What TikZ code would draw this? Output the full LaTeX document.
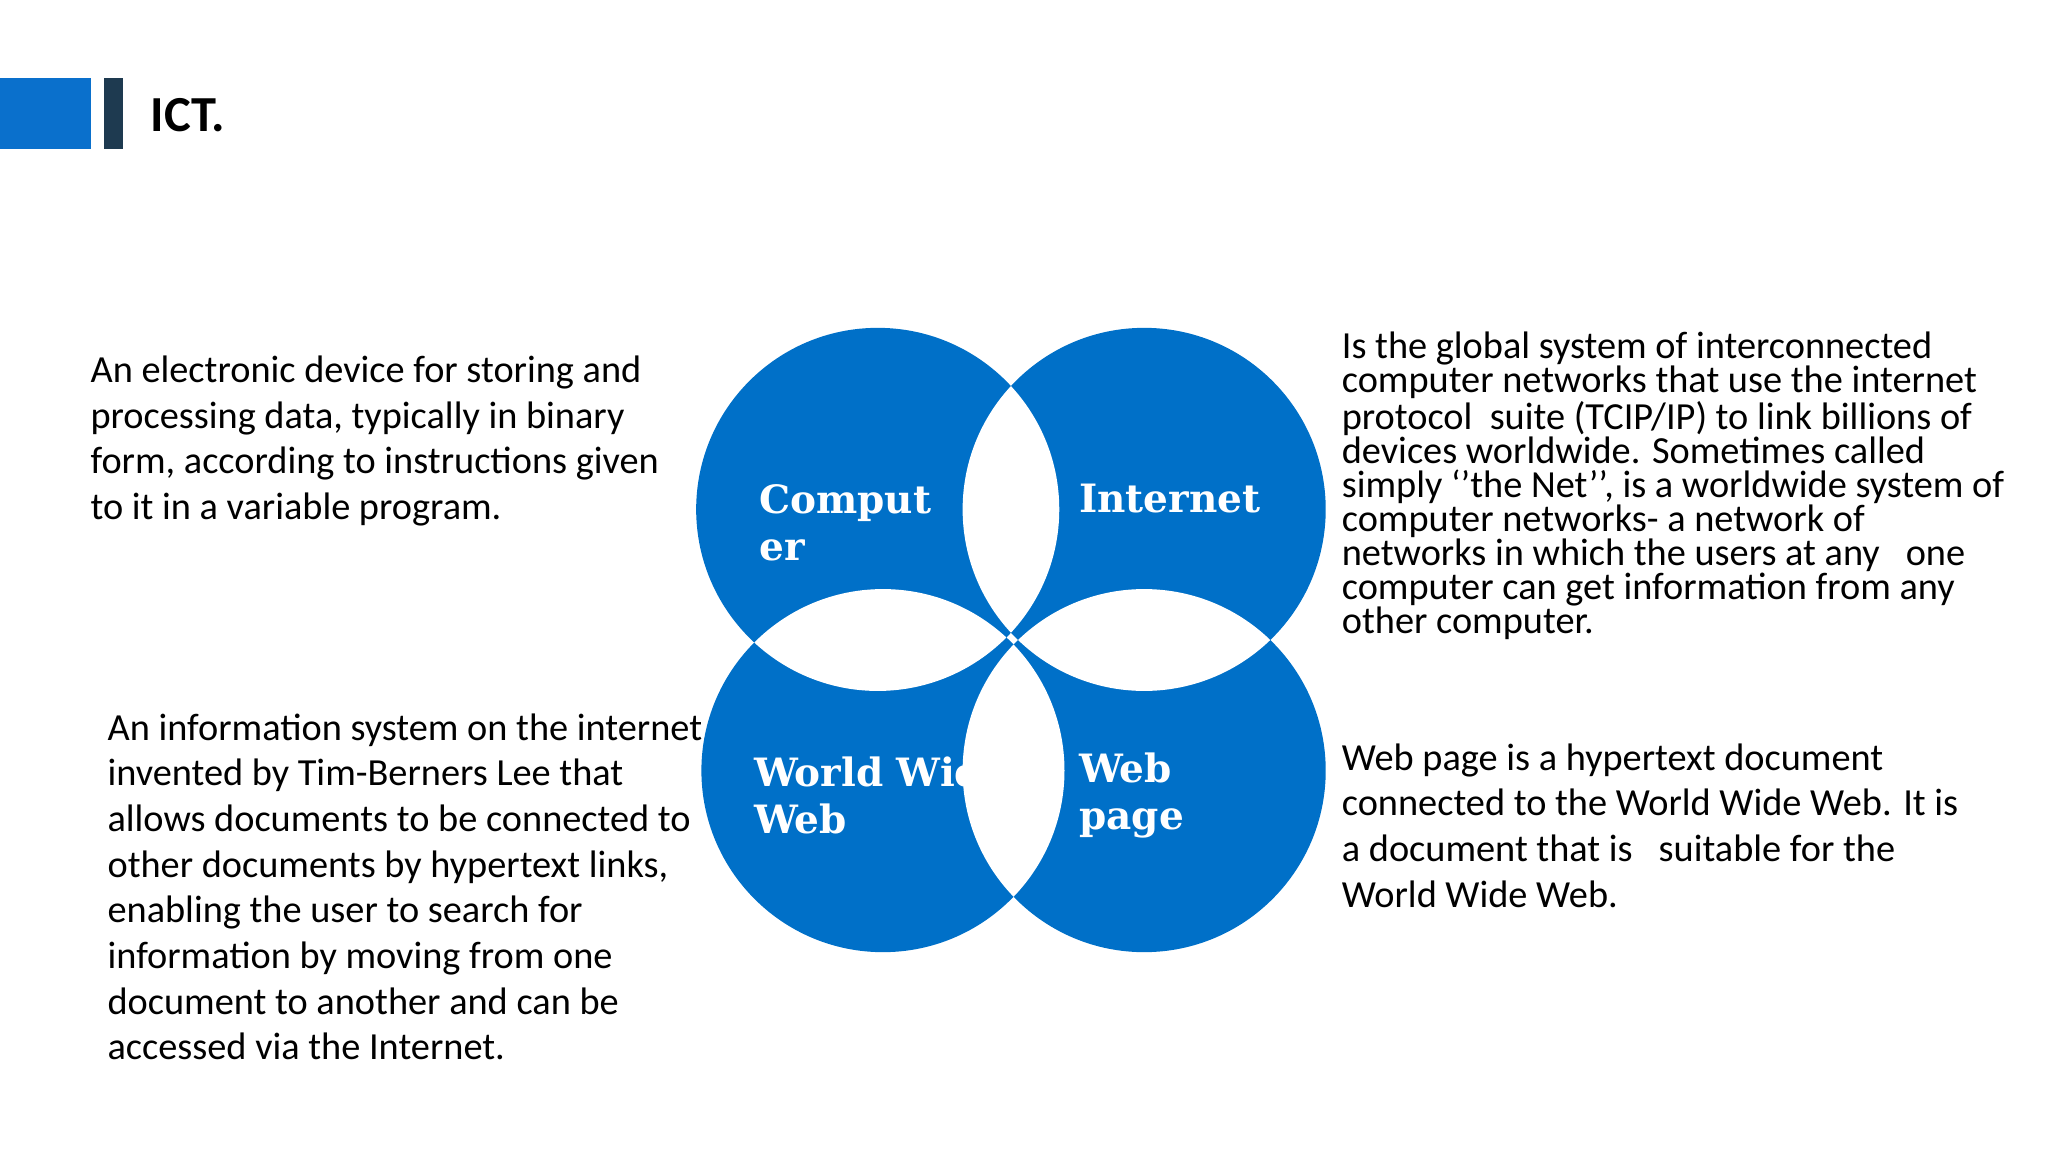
\documentclass[tikz,border=0pt]{standalone}
\usepackage{fontspec}
\setmainfont{Carlito}
\newfontfamily\labfont{DejaVu Serif}
\definecolor{cblue}{HTML}{0070C8}
\definecolor{hblue}{HTML}{0A70CC}
\definecolor{hdark}{HTML}{1E3A50}
\begin{document}
\begin{tikzpicture}[x=0.02cm,y=-0.02cm,
  body/.style={anchor=north west,align=left,inner sep=0pt,font=\fontsize{16.7}{19.9}\selectfont},
  lab/.style={anchor=west,align=left,inner sep=0pt,text=white,font=\labfont\bfseries\fontsize{17}{20.5}\selectfont}]
\useasboundingbox (0,0) rectangle (1568,882);
\fill[hblue] (0,60) rectangle (70,114);
\fill[hdark] (80,60) rectangle (94,114);
\node[anchor=west,inner sep=0pt,font=\bfseries\fontsize{22}{24}\selectfont] (title) at (115,88) {ICT.};
\coordinate (tl) at (672,390);
\coordinate (tr) at (876,390);
\coordinate (bl) at (676,590);
\coordinate (br) at (876,590);
\foreach \c in {tl,tr,bl,br} \fill[cblue] (\c) circle (139);
\node[lab] (lcomp) at (581,400) {Comput\\er};
\node[lab] (lint) at (826,382) {Internet};
\node[lab] (lwww) at (577,609) {World Wide\\Web};
\node[lab] (lweb) at (826,609) {Web\\page};
\begin{scope}\clip (tl) circle (139); \fill[white] (tr) circle (139); \fill[white] (bl) circle (139);\end{scope}
\begin{scope}\clip (br) circle (139); \fill[white] (tr) circle (139); \fill[white] (bl) circle (139);\end{scope}
\node[body] (t1) at (69,272) {An electronic device for storing and\\processing data, typically in binary\\form, according to instructions given\\to it in a variable program.};
\node[body,font=\fontsize{16.7}{14.8}\selectfont] (t2) at (1027,254) {Is the global system of interconnected\\computer networks that use the internet\\protocol\ \ suite (TCIP/IP) to link billions of\\devices worldwide. Sometimes called\\simply ‘’the Net’’, is a worldwide system of\\computer networks- a network of\\networks in which the users at any \ \ one\\computer can get information from any\\other computer.};
\node[body] (t3) at (82,546) {An information system on the internet\\invented by Tim-Berners Lee that\\allows documents to be connected to\\other documents by hypertext links,\\enabling the user to search for\\information by moving from one\\document to another and can be\\accessed via the Internet.};
\node[body] (t4) at (1027,569) {Web page is a hypertext document\\connected to the World Wide Web. It is\\a document that is \ \ suitable for the\\World Wide Web.};
\end{tikzpicture}
\end{document}
